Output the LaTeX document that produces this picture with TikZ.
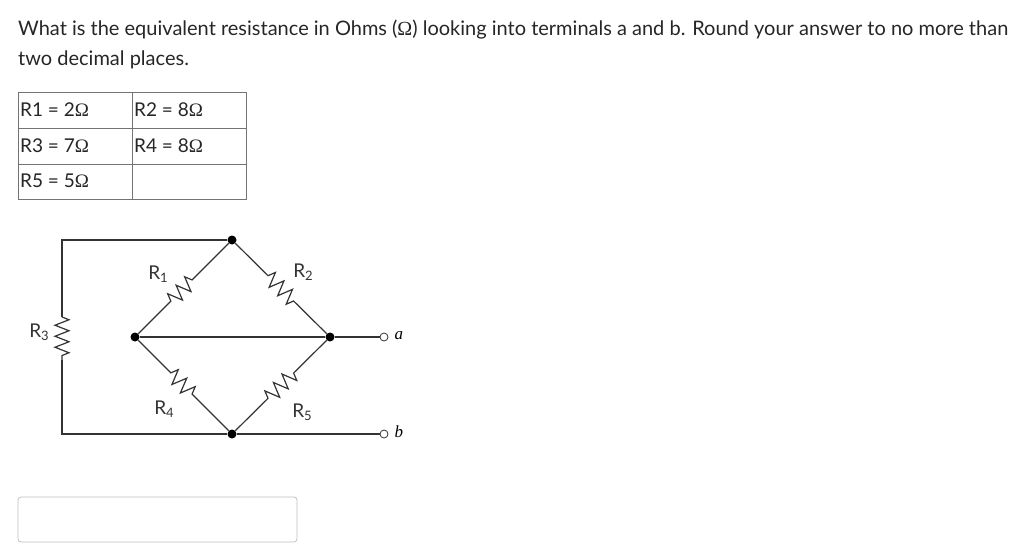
\documentclass[tikz,border=0pt]{standalone}
\usepackage{fontspec}
\setmainfont{Lato}
\newfontfamily\omfont{Liberation Serif}
\usetikzlibrary{decorations.pathmorphing}
\newcommand{\Rl}[1]{R\raisebox{-0.35ex}{\fontsize{13}{14}\selectfont #1}}
\newcommand{\Om}{{\omfont Ω}}
\begin{document}
\begin{tikzpicture}[x=1pt,y=-1pt,
  wire/.style={line width=1.2pt,black!80},
  res/.style={wire,decoration={zigzag,segment length=12pt,amplitude=7.5pt,pre length=46pt,post length=46pt},decorate},
  dot/.style={circle,fill=black,inner sep=0pt,minimum size=9pt},
  term/.style={circle,draw=black!80,line width=0.8pt,fill=white,inner sep=0pt,minimum size=8pt},
  lab/.style={font=\fontsize{19}{22}\selectfont,text=black!80},
  cell/.style={font=\fontsize{19}{22}\selectfont,text=black!85,anchor=west}]
\useasboundingbox (0,0) rectangle (1010,557);
\node[anchor=west,font=\fontsize{20}{23}\selectfont,text=black!85,inner sep=0] (q1) at (18,30) {What is the equivalent resistance in Ohms (\Om) looking into terminals a and b. Round your answer to no more than};
\node[anchor=west,font=\fontsize{20}{23}\selectfont,text=black!85,inner sep=0] (q2) at (18,60) {two decimal places.};
% table
\draw[black!55,line width=0.8pt] (18,92) rectangle (246,199);
\draw[black!55,line width=0.8pt] (18,128) -- (246,128) (18,164) -- (246,164) (132,92) -- (132,199);
\node[cell,inner sep=2pt] (c1) at (18,110) {R1 = 2\Om};
\node[cell,inner sep=2pt] (c2) at (132,110) {R2 = 8\Om};
\node[cell,inner sep=2pt] (c3) at (18,146) {R3 = 7\Om};
\node[cell,inner sep=2pt] (c4) at (132,146) {R4 = 8\Om};
\node[cell,inner sep=2pt] (c5) at (18,181) {R5 = 5\Om};
% circuit
\node[dot] (T) at (232,240) {};
\node[dot] (L) at (135,337) {};
\node[dot] (R) at (330,337) {};
\node[dot] (B) at (232,434) {};
\node[term] (a) at (384,337) {};
\node[term] (b) at (384,434) {};
\coordinate (tl) at (62,240);
\coordinate (bl) at (62,434);
\coordinate (r3t) at (62,317);
\coordinate (r3b) at (62,360);
\draw[wire] (T) -- (tl) -- (r3t);
\draw[wire,decoration={zigzag,segment length=11pt,amplitude=7pt},decorate] (r3t) -- (r3b);
\draw[wire] (r3b) -- (bl) -- (B) -- (b);
\draw[wire] (L) -- (R) -- (a);
\draw[res] (L) -- (T);
\draw[res] (T) -- (R);
\draw[res] (L) -- (B);
\draw[res] (B) -- (R);
\node[lab] (l1) at (158,274) {\Rl{1}};
\node[lab] (l2) at (303,272) {\Rl{2}};
\node[lab] (l3) at (39,332) {\Rl{3}};
\node[lab] (l4) at (164,409) {\Rl{4}};
\node[lab] (l5) at (302,412) {\Rl{5}};
\node[font=\fontsize{17}{18}\selectfont,anchor=west] (la) at (391,336) {\omfont\itshape a};
\node[font=\fontsize{17}{18}\selectfont,anchor=west] (lb) at (391,432) {\omfont\itshape b};
% answer box
\draw[black!25,line width=0.8pt,rounded corners=3pt] (18,497) rectangle (297,542);
\end{tikzpicture}
\end{document}
